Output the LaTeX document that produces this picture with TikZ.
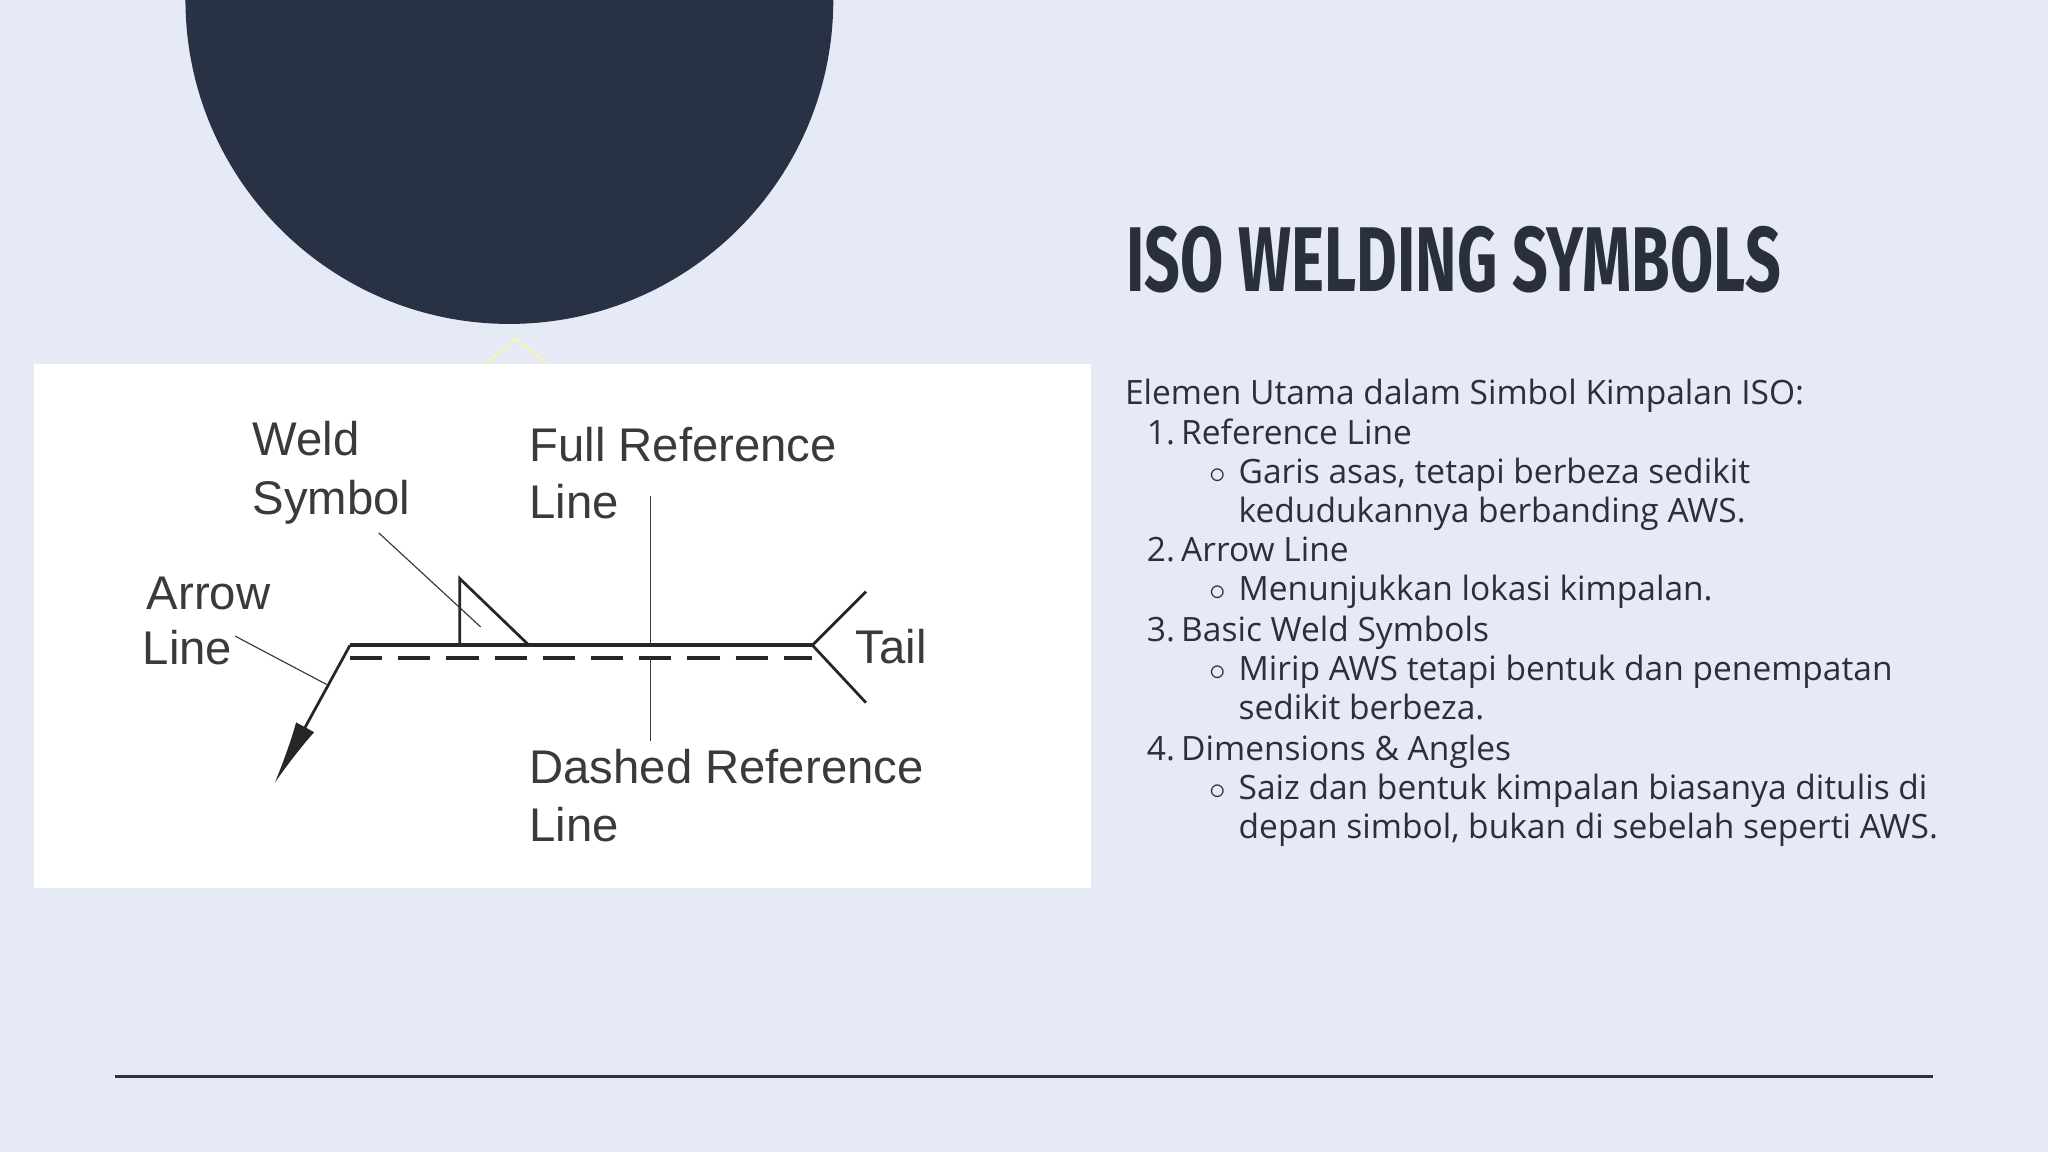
\documentclass[tikz,border=0pt]{standalone}
\usepackage{fontspec}
\usepackage{graphicx}
\setmainfont{Open Sans}
\newfontfamily\diafont{Liberation Sans}
\newfontfamily\titlefont{Fira Sans}
\usetikzlibrary{arrows.meta}
\definecolor{bgc}{HTML}{E6EAF6}
\definecolor{navy}{HTML}{293245}
\definecolor{txt}{HTML}{2A2F3D}
\definecolor{dgray}{HTML}{3A3A3A}
\tikzset{
  body/.style={anchor=base west,inner sep=0pt,text=txt,font=\fontsize{14.6pt}{17pt}\selectfont},
  num/.style={anchor=base east,inner sep=0pt,text=txt,font=\fontsize{14.6pt}{17pt}\selectfont},
  lab/.style={anchor=base west,inner sep=0pt,text=dgray,font=\diafont\fontsize{20.6pt}{24pt}\selectfont,align=left},
  thin/.style={draw=dgray,line width=0.5pt},
  refl/.style={draw=black!85,line width=1.6pt}
}
\begin{document}
\begin{tikzpicture}[x=0.02cm,y=-0.02cm]
\fill[bgc] (0,0) rectangle (1568,882);
\useasboundingbox (0,0) rectangle (1568,882);
\begin{scope}
\clip (0,0) rectangle (1568,882);
\fill[navy] (390,0) circle (248);
\end{scope}
\fill[white] (26,279) rectangle (835,680);
\draw[yellow!40!white,line width=0.6pt] (372,278) -- (395,259) -- (418,278);
% diagram
\coordinate (rs) at (268,494); \coordinate (re) at (622,494);
\coordinate (ds) at (268,504); \coordinate (de) at (622,504);
\draw[refl] (rs) -- (re);
\draw[refl,dash pattern=on 14pt off 7pt] (ds) -- (de);
\coordinate (t1) at (352,443); \coordinate (t2) at (352,494); \coordinate (t3) at (405,494);
\draw[refl,line width=1.2pt] (t2) -- (t1) -- (t3);
\coordinate (ta) at (663,453); \coordinate (tb) at (663,538);
\draw[refl,line width=1.2pt] (ta) -- (re) -- (tb);
\coordinate (ah) at (210,600);
\draw[refl,line width=1.2pt,-{Latex[length=28pt,width=9pt]}] (rs) -- (ah);
\coordinate (w1) at (290,408); \coordinate (w2) at (368,480);
\draw[thin] (w1) -- (w2);
\coordinate (a1) at (180,487); \coordinate (a2) at (250,524);
\draw[thin] (a1) -- (a2);
\coordinate (f1) at (498,380); \coordinate (f2) at (498,494);
\draw[thin] (f1) -- (f2);
\coordinate (g1) at (498,504); \coordinate (g2) at (498,567);
\draw[thin] (g1) -- (g2);
\node[lab] (lw1) at (193,349) {Weld};
\node[lab] (lw2) at (193,394) {Symbol};
\node[lab] (lf1) at (405,353) {Full Reference};
\node[lab] (lf2) at (405,397) {Line};
\node[lab] (la1) at (112,467) {Arrow};
\node[lab] (la2) at (109,509) {Line};
\node[lab] (lt) at (655,508) {Tail};
\node[lab] (ld1) at (405,600) {Dashed Reference};
\node[lab] (ld2) at (405,644) {Line};
% title
\node[anchor=south west,inner sep=0pt,text=txt] (title) at (862,225) {\resizebox{10.02cm}{1cm}{\titlefont\bfseries ISO WELDING SYMBOLS}};
% body
\node[body] (b0) at (861,310) {Elemen Utama dalam Simbol Kimpalan ISO:};
\node[num] (n1) at (900,340) {1.}; \node[body] (i1) at (904,340) {Reference Line};
\node[body] (c1) at (926,370) {$\circ$}; \node[body] (s1) at (948,370) {Garis asas, tetapi berbeza sedikit};
\node[body] (s1b) at (948,400) {kedudukannya berbanding AWS.};
\node[num] (n2) at (900,430) {2.}; \node[body] (i2) at (904,430) {Arrow Line};
\node[body] (c2) at (926,460) {$\circ$}; \node[body] (s2) at (948,460) {Menunjukkan lokasi kimpalan.};
\node[num] (n3) at (900,491) {3.}; \node[body] (i3) at (904,491) {Basic Weld Symbols};
\node[body] (c3) at (926,521) {$\circ$}; \node[body] (s3) at (948,521) {Mirip AWS tetapi bentuk dan penempatan};
\node[body] (s3b) at (948,551) {sedikit berbeza.};
\node[num] (n4) at (900,582) {4.}; \node[body] (i4) at (904,582) {Dimensions \& Angles};
\node[body] (c4) at (926,612) {$\circ$}; \node[body] (s4) at (948,612) {Saiz dan bentuk kimpalan biasanya ditulis di};
\node[body] (s4b) at (948,642) {depan simbol, bukan di sebelah seperti AWS.};
\coordinate (l1) at (88,824); \coordinate (l2) at (1480,824);
\draw[navy,line width=1.3pt] (l1) -- (l2);
\end{tikzpicture}
\end{document}
